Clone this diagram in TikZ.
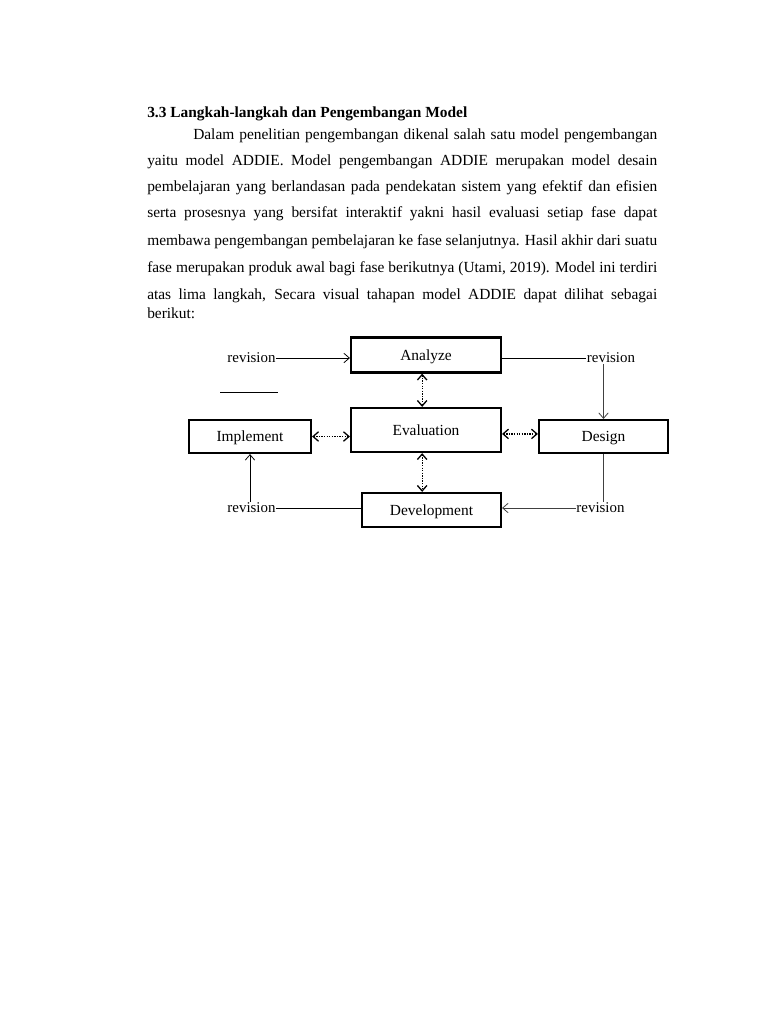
\documentclass[tikz,border=0pt]{standalone}
\usepackage{fontspec}
\setmainfont{Liberation Serif}
\usepackage{tikz}
\usetikzlibrary{arrows, arrows.meta}
\usetikzlibrary{calc}
\usetikzlibrary{positioning}

\newlength{\fullw}
\setlength{\fullw}{139.45mm}
\newlength{\indw}
\setlength{\indw}{126.9mm}

\tikzset{
	phase/.style={draw, line width=1.7pt, inner sep=0pt, text depth=0pt, font=\fontsize{12}{14}\selectfont},
	rev/.style={inner sep=0.5pt, font=\fontsize{11.6}{14}\selectfont},
	textline/.style={anchor=base west, inner sep=0pt, font=\fontsize{12}{14}\selectfont},
	link/.style={line width=0.6pt},
	dotlink/.style={<->, line width=1pt, densely dotted},
}

\begin{document}
\begin{tikzpicture}[x=0.27344mm, y=-0.27344mm, >={Straight Barb[length=1.5mm, width=2.6mm]}]
	\fill[white] (0,0) rectangle (768,1024);
	\useasboundingbox (0,0) rectangle (768,1024);
	
	% heading and text
	\node[textline, font=\fontsize{12}{14}\selectfont\bfseries] (title) at (147,117) {3.3 Langkah-langkah dan Pengembangan Model};
	\node[textline] (l1) at (193,139.5) {\makebox[\indw][s]{Dalam penelitian pengembangan dikenal salah satu model pengembangan}};
	\node[textline] (l2) at (147,165) {\makebox[\fullw][s]{yaitu model ADDIE. Model pengembangan ADDIE merupakan model desain}};
	\node[textline] (l3) at (147,191.5) {\makebox[\fullw][s]{pembelajaran yang berlandasan pada pendekatan sistem yang efektif dan efisien}};
	\node[textline] (l4) at (147,217.5) {\makebox[\fullw][s]{serta prosesnya yang bersifat interaktif yakni hasil evaluasi setiap fase dapat}};
	\node[textline] (l5) at (147,245) {\makebox[\fullw][s]{membawa pengembangan pembelajaran ke fase selanjutnya. Hasil akhir dari suatu}};
	\node[textline] (l6) at (147,272) {\makebox[\fullw][s]{fase merupakan produk awal bagi fase berikutnya (Utami, 2019). Model ini terdiri}};
	\node[textline] (l7) at (147,299) {\makebox[\fullw][s]{atas lima langkah, Secara visual tahapan model ADDIE dapat dilihat sebagai}};
	\node[textline] (l8) at (147,318) {berikut:};
	
	% phases
	\node[phase, minimum width=41mm, minimum height=9.57mm] (analyze) at (426,355) {Analyze};
	\node[phase, minimum width=41mm, minimum height=12.03mm] (evaluation) at (426,430) {Evaluation};
	\node[phase, minimum width=33.36mm, minimum height=9.02mm] (implement) at (250,436.5) {Implement};
	\node[phase, minimum width=35.27mm, minimum height=9.02mm] (design) at (603.5,436.5) {Design};
	\node[phase, minimum width=38mm, minimum height=9.3mm] (development) at (431.5,510) {Development};
	
	% revision labels
	\node[rev] (revtl) at (251.5,358) {revision};
	\node[rev] (revtr) at (611,358) {revision};
	\node[rev] (revbl) at (251.5,508) {revision};
	\node[rev] (revbr) at (600.5,508) {revision};
	
	% revision loops
	\draw[link, ->] (revtl.east) -- (revtl.east -| analyze.west);
	\draw[link] (analyze.east |- revtr.west) -- (revtr.west);
	\draw[link, ->, black!75] (revtr.south -| design.north) -- (design.north);
	\draw[link, black!75] (design.south) -- (design.south |- revbr.north);
	\draw[link, ->, black!75] (revbr.west) -- (revbr.west -| development.east);
	\draw[link] (revbl.east) -- (revbl.east -| development.west);
	\draw[link, ->] (revbl.north -| implement.south) -- (implement.south);
	
	\draw[link] (220,392) -- (278,392);
	
	% evaluation links
	\draw[dotlink] ([xshift=-3pt]analyze.south) -- ([xshift=-3pt]analyze.south |- evaluation.north);
	\draw[dotlink] ([xshift=-3pt]evaluation.south) -- ([xshift=-3pt]evaluation.south |- development.north);
	\draw[dotlink] (implement.east) -- (implement.east -| evaluation.west);
	\draw[dotlink] ([yshift=2pt]evaluation.east |- design.west) -- ([yshift=2pt]design.west);
\end{tikzpicture}
\end{document}
